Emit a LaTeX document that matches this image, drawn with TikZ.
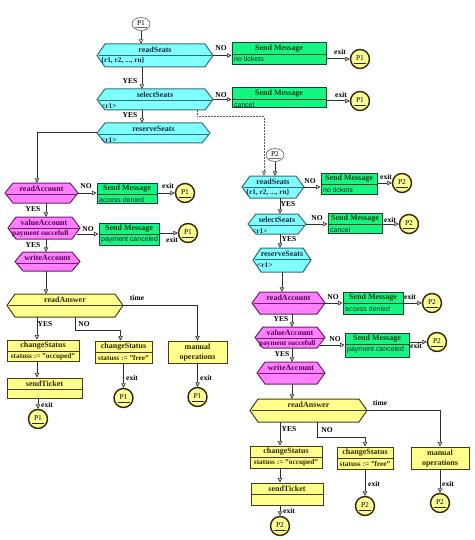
\documentclass[tikz,border=0pt]{standalone}
\usepackage{fontspec}
\setmainfont{Liberation Serif}
\setsansfont{Liberation Sans}
\usetikzlibrary{arrows.meta,calc,fit,shapes.geometric}
\definecolor{cyf}{RGB}{128,255,255}
\definecolor{cyd}{RGB}{50,110,120}
\definecolor{cyt}{RGB}{20,40,60}
\definecolor{mgf}{RGB}{255,128,255}
\definecolor{mgd}{RGB}{110,30,110}
\definecolor{mgt}{RGB}{80,0,80}
\definecolor{grf}{RGB}{20,245,130}
\definecolor{grd}{RGB}{20,70,40}
\definecolor{grt}{RGB}{10,60,30}
\definecolor{grs}{RGB}{20,40,40}
\definecolor{ylf}{RGB}{255,255,140}
\definecolor{yld}{RGB}{70,60,20}
\definecolor{ylt}{RGB}{50,40,0}
\definecolor{endf}{RGB}{255,255,150}
\definecolor{endd}{RGB}{50,35,0}
\definecolor{lnc}{RGB}{45,45,45}
\definecolor{dshc}{RGB}{90,90,90}
\definecolor{stc}{RGB}{110,110,110}

\tikzset{
  ln/.style={draw=lnc, line width=1pt},
  arr/.style={ln, -{Triangle[open, length=4.5pt, width=4.5pt, line width=0.7pt]}},
  dsh/.style={draw=dshc, line width=1pt, dash pattern=on 1.6pt off 1.4pt, -{Triangle[open, length=4.5pt, width=4.5pt, line width=0.7pt]}},
  ttl/.style={inner sep=0pt, font=\fontsize{8}{9}\selectfont\bfseries},
  subt/.style={inner sep=0pt, font=\fontsize{7.3}{8.5}\selectfont\bfseries},
  msub/.style={inner sep=0pt, font=\sffamily\fontsize{7}{8}\selectfont},
  lbl/.style={inner sep=0pt, font=\fontsize{7.5}{8}\selectfont\bfseries, text=black},
  endc/.style={circle, minimum size=19pt, inner sep=0pt, fill=endf, draw=endd, line width=1.4pt,
    font=\fontsize{7.5}{8}\selectfont,
    path picture={\draw[endd, line width=0.6pt] ([xshift=-6pt,yshift=-4pt]path picture bounding box.center) -- ([xshift=6pt,yshift=-4pt]path picture bounding box.center);}},
  startc/.style={ellipse, minimum width=18pt, minimum height=13pt, inner sep=0pt, fill=white, draw=stc, line width=0.7pt,
    font=\fontsize{7.5}{8}\selectfont,
    path picture={\draw[stc, line width=0.6pt] ([xshift=-6pt,yshift=-3.5pt]path picture bounding box.center) -- ([xshift=6pt,yshift=-3.5pt]path picture bounding box.center);}}
}

\newcommand\qq{\symbol{34}}
\newcommand\hexnode[8]{%
  \pgfmathsetmacro\hexym{(#3+#5)/2}%
  \filldraw[fill=#6f, draw=#6d, line width=1pt] (#2,\hexym) -- ({#2+8},#3) -- ({#4-8},#3) -- (#4,\hexym) -- ({#4-8},#5) -- ({#2+8},#5) -- cycle;
  \draw[#6d, line width=0.7pt] ({#2+1.5},{#3+11.5}) -- ({#4-1.5},{#3+11.5});
  \node[fit={(#2,#3)(#4,#5)}, inner sep=0pt] (#1) {};
  \node[ttl, text=#6t] (#1-t) at ({(#2+#4)/2},{#3+6}) {#7};
  \node[subt, text=#6t, anchor=west] (#1-s) at ({#2+4},{#3+17}) {#8};
}
\newcommand\msgnode[6]{%
  \node[fit={(#2,#3)(#4,#5)}, inner sep=0pt, fill=grf, draw=grd, line width=1pt] (#1) {};
  \draw[grd, line width=0.7pt] (#2,{#3+11}) -- (#4,{#3+11});
  \node[ttl, text=grt] (#1-t) at ({(#2+#4)/2},{#3+6}) {Send Message};
  \node[msub, text=grs, anchor=west] (#1-s) at ({#2+2},{#3+16.5}) {#6};
}
\newcommand\ylbox[7]{%
  \node[fit={(#2,#3)(#4,#5)}, inner sep=0pt, fill=ylf, draw=yld, line width=1pt] (#1) {};
  \draw[yld, line width=0.7pt] (#2,{#3+11}) -- (#4,{#3+11});
  \node[ttl, text=ylt] (#1-t) at ({(#2+#4)/2},{#3+6}) {#6};
  \node[subt, text=ylt] (#1-s) at ({(#2+#4)/2},{#3+16.5}) {#7};
}

\begin{document}
\begin{tikzpicture}[x=1pt, y=-1pt]
\useasboundingbox (0,0) rectangle (474,540);
\fill[white] (0,0) rectangle (474,540);

% ---------- left column (P1) ----------
\node[startc] (p1s) at (141,24) {\raisebox{1pt}{P1}};
\hexnode{rsL}{97}{44}{213}{67}{cy}{readSeats}{\{r1, r2, ..., rn\}}
\hexnode{ssL}{97}{89}{213}{110}{cy}{selectSeats}{<r1>}
\hexnode{rvL}{97}{123}{210}{143}{cy}{reserveSeats}{<r1>}
\hexnode{raL}{5}{183}{78}{203}{mg}{readAccount}{}
\hexnode{vaL}{8}{217}{80}{239}{mg}{valueAccount}{payment succefull}
\hexnode{waL}{15}{252}{80}{271}{mg}{writeAccount}{}
\hexnode{rnL}{7}{294}{123}{317}{yl}{readAnswer}{}
\msgnode{m1}{232}{43}{326}{65}{no tickets}
\msgnode{m2}{232}{88}{326}{108}{cancel}
\msgnode{mA}{97}{183}{157}{203}{access denied}
\msgnode{mB}{99}{223}{159}{245}{payment canceled}
\ylbox{csA}{7}{340}{79}{361}{changeStatus}{statuss := \qq occuped\qq}
\ylbox{csB}{95}{341}{152}{363}{changeStatus}{statuss := \qq free\qq}
\ylbox{stL}{7}{378}{82}{398}{sendTicket}{}
\node[fit={(168,341)(227,363)}, inner sep=0pt, fill=ylf, draw=yld, line width=1pt] (mo) {};
\node[ttl, text=ylt] (mo-t) at (197.5,347) {manual};
\node[ttl, text=ylt] (mo-s) at (197.5,357.5) {operations};

\node[endc] (e1) at (360,59) {\raisebox{1pt}{P1}};
\node[endc] (e2) at (360,101) {\raisebox{1pt}{P1}};
\node[endc] (eA) at (185,193) {\raisebox{1pt}{P1}};
\node[endc] (eB) at (188,233) {\raisebox{1pt}{P1}};
\node[endc] (eC) at (38,419) {\raisebox{1pt}{P1}};
\node[endc] (eD) at (123.5,398) {\raisebox{1pt}{P1}};
\node[endc] (eE) at (197.5,397) {\raisebox{1pt}{P1}};

\coordinate (colL) at (46,0);
\coordinate (colL2) at (37,0);
\coordinate (colL3) at (75,0);
\coordinate (colP1) at (142,0);

\draw[arr] (p1s.south) -- (p1s.south |- rsL.north);
\draw[arr] (rsL.east) -- (rsL.east -| m1.west);
\draw[arr] (m1.east |- e1.west) -- (e1.west);
\draw[arr] (rsL.south -| colP1) -- (ssL.north -| colP1);
\draw[arr] (ssL.east) -- (ssL.east -| m2.west);
\draw[arr] (m2.east |- e2.west) -- (e2.west);
\draw[arr] (ssL.south -| colP1) -- (rvL.north -| colP1);
\draw[arr] (rvL.west) -| (raL.north -| colL2);
\draw[arr] (raL.east) -- (raL.east -| mA.west);
\draw[arr] (mA.east |- eA.west) -- (eA.west);
\draw[arr] (raL.south -| colL) -- (vaL.north -| colL);
\draw[arr] ($(vaL.east |- mB.west)+(-3,0)$) -- (mB.west);
\draw[arr] (mB.east |- eB.west) -- (eB.west);
\draw[arr] (vaL.south -| colL) -- (waL.north -| colL);
\draw[arr] (waL.south -| colL) -- (rnL.north -| colL);
\draw[arr] (rnL.east) -| (mo.north);
\draw[arr] (rnL.south -| colL2) -- (csA.north -| colL2);
\draw[arr] (rnL.south -| colL3) -- ++(0,13) -| ($(csB.north)+(-3,0)$);
\draw[arr] (csA.south -| colL2) -- (stL.north -| colL2);
\draw[arr] (stL.south -| eC) -- (eC.north);
\draw[arr] (csB.south) -- (eD.north);
\draw[arr] (mo.south) -- (eE.north);

\node[lbl] (tNO1) at (221,48) {NO};
\node[lbl] (tNO2) at (221,95) {NO};
\node[lbl] (tYES1) at (130,81) {YES};
\node[lbl] (tYES2) at (130,115) {YES};
\node[lbl] (tx1) at (340,52) {exit};
\node[lbl] (tx2) at (341,95) {exit};
\node[lbl] (tNO3) at (86,186) {NO};
\node[lbl] (tYES3) at (33,209) {YES};
\node[lbl] (tNO4) at (88,229) {NO};
\node[lbl] (tYES4) at (33,245) {YES};
\node[lbl] (tx3) at (168,186) {exit};
\node[lbl] (tx4) at (172,240) {exit};
\node[lbl] (ttime1) at (137,298) {time};
\node[lbl] (tYES5) at (45,324) {YES};
\node[lbl] (tNO5) at (84,324) {NO};
\node[lbl] (tx5) at (47,405) {exit};
\node[lbl] (tx6) at (132,378) {exit};
\node[lbl] (tx7) at (206,378) {exit};

% ---------- right column (P2) ----------
\node[startc] (p2s) at (275,155) {\raisebox{1pt}{P2}};
\hexnode{rsR}{242}{176}{304}{198}{cy}{readSeats}{\{r1, r2, ..., rn\}}
\hexnode{ssR}{248}{214}{306}{234}{cy}{selectSeats}{<r1>}
\hexnode{rvR}{253}{248}{311}{272}{cy}{reserveSeats}{<r1>}
\hexnode{raR}{252}{292}{325}{314}{mg}{readAccount}{}
\hexnode{vaR}{255}{327}{325}{348}{mg}{valueAccount}{payment succefull}
\hexnode{waR}{257}{362}{325}{384}{mg}{writeAccount}{}
\hexnode{rnR}{250}{399}{367}{422}{yl}{readAnswer}{}
\msgnode{mR1}{321}{173}{377}{194}{no tickets}
\msgnode{mR2}{328}{213}{382}{233}{cancel}
\msgnode{mR3}{343}{292}{403}{314}{access denied}
\msgnode{mR4}{345}{333}{409}{357}{payment canceled}
\ylbox{csRA}{250}{446}{322}{468}{changeStatus}{statuss := \qq occuped\qq}
\ylbox{csRB}{337}{447}{393}{469}{changeStatus}{statuss := \qq free\qq}
\ylbox{stR}{251}{483}{323}{505}{sendTicket}{}
\node[fit={(411,447)(469,469)}, inner sep=0pt, fill=ylf, draw=yld, line width=1pt] (moR) {};
\node[ttl, text=ylt] (moR-t) at (440,453) {manual};
\node[ttl, text=ylt] (moR-s) at (440,463.5) {operations};

\node[endc] (eR1) at (402,183) {\raisebox{1pt}{P2}};
\node[endc] (eR2) at (409,224) {\raisebox{1pt}{P2}};
\node[endc] (eR3) at (432,303) {\raisebox{1pt}{P2}};
\node[endc] (eR4) at (437,342) {\raisebox{1pt}{P2}};
\node[endc] (eR5) at (280,526) {\raisebox{1pt}{P2}};
\node[endc] (eR6) at (365,506) {\raisebox{1pt}{P2}};
\node[endc] (eR7) at (440,503) {\raisebox{1pt}{P2}};

\coordinate (colR) at (280,0);
\coordinate (colR3) at (292,0);
\coordinate (colR5) at (317,0);
\coordinate (dA) at (197,110);

\draw[dsh] (dA) -- ++(0,7) -| ($(rsR.north)+(-9,0)$);
\draw[arr] (p2s.south) -- (p2s.south |- rsR.north);
\draw[arr] (rsR.east) -- (rsR.east -| mR1.west);
\draw[arr] (mR1.east |- eR1.west) -- (eR1.west);
\draw[arr] (rsR.south -| colR) -- (ssR.north -| colR);
\draw[arr] (ssR.east) -- (ssR.east -| mR2.west);
\draw[arr] (mR2.east |- eR2.west) -- (eR2.west);
\draw[arr] (ssR.south -| colR) -- (rvR.north -| colR);
\draw[arr] (rvR.south) -- (rvR.south |- raR.north);
\draw[arr] (raR.east) -- (raR.east -| mR3.west);
\draw[arr] (mR3.east |- eR3.west) -- (eR3.west);
\draw[arr] (raR.south -| colR3) -- (vaR.north -| colR3);
\draw[arr] ($(vaR.east |- mR4.west)+(-5,0)$) -- (mR4.west);
\draw[arr] (mR4.east |- eR4.west) -- (eR4.west);
\draw[arr] (vaR.south -| colR3) -- (waR.north -| colR3);
\draw[arr] (waR.south -| colR3) -- (rnR.north -| colR3);
\draw[arr] (rnR.east) -| (moR.north);
\draw[arr] (rnR.south -| colR) -- (csRA.north -| colR);
\draw[arr] (rnR.south -| colR5) -- ++(0,15) -| (csRB.north);
\draw[arr] (csRA.south -| colR) -- (stR.north -| colR);
\draw[arr] (stR.south -| colR) -- (eR5.north);
\draw[arr] (csRB.south) -- (eR6.north);
\draw[arr] (moR.south) -- (eR7.north);

\node[lbl] (rNO1) at (310,181) {NO};
\node[lbl] (rYES1) at (288,204) {YES};
\node[lbl] (rNO2) at (317,218) {NO};
\node[lbl] (rYES2) at (289,239) {YES};
\node[lbl] (rx1) at (386,177) {exit};
\node[lbl] (rx2) at (390,220) {exit};
\node[lbl] (rNO3) at (333,297) {NO};
\node[lbl] (rYES3) at (281,319) {YES};
\node[lbl] (rNO4) at (335,339) {NO};
\node[lbl] (rYES4) at (282,354) {YES};
\node[lbl] (rx3) at (410,297) {exit};
\node[lbl] (rx4) at (416,346) {exit};
\node[lbl] (rtime) at (380,403) {time};
\node[lbl] (rYES5) at (289,429) {YES};
\node[lbl] (rNO5) at (327,430) {NO};
\node[lbl] (rx5) at (289,511) {exit};
\node[lbl] (rx6) at (374,484) {exit};
\node[lbl] (rx7) at (448,484) {exit};
\end{tikzpicture}
\end{document}
